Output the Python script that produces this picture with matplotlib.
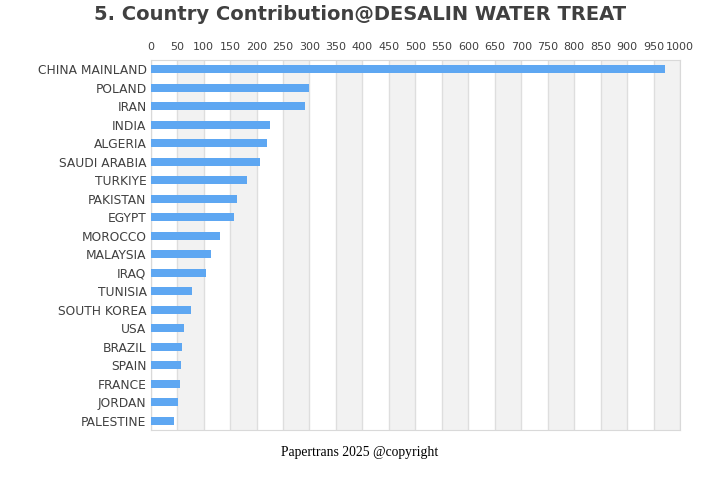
import matplotlib.pyplot as plt
import numpy as np

countries = ["CHINA MAINLAND", "POLAND", "IRAN", "INDIA", "ALGERIA", "SAUDI ARABIA",
             "TURKIYE", "PAKISTAN", "EGYPT", "MOROCCO", "MALAYSIA", "IRAQ", "TUNISIA",
             "SOUTH KOREA", "USA", "BRAZIL", "SPAIN", "FRANCE", "JORDAN", "PALESTINE"]
values = [972, 299, 292, 225, 220, 206, 182, 163, 157, 131, 114, 104, 78, 76,
          63, 59, 57, 55, 52, 44]
x_ticks = list(range(0, 1001, 50))

fig = plt.figure(figsize=(7.2, 4.8), dpi=100)
ax = fig.add_axes([0.2093, 0.104, 0.7351, 0.771])

# alternating background bands
for i, t in enumerate(x_ticks[:-1]):
    if i % 2 == 1:
        ax.axvspan(t, t + 50, color='#f2f2f2', zorder=0, lw=0)
for t in x_ticks:
    ax.axvline(t, color='#dedede', lw=1, zorder=1)

y = np.arange(len(countries))
ax.barh(y, values, height=0.45, color='#5ea7f2', zorder=3)

ax.set_xlim(0, 1000)
ax.set_ylim(len(countries) - 0.5, -0.5)
ax.set_yticks(y)
ax.set_yticklabels(countries, fontsize=8.8, color='#404040')
ax.set_xticks(x_ticks)
ax.xaxis.tick_top()
ax.tick_params(axis='x', labelsize=8, colors='#404040', length=0, pad=6)
ax.tick_params(axis='y', length=0, pad=3)
for s in ax.spines.values():
    s.set_color('#d9d9d9')

fig.text(0.5, 0.97, "5. Country Contribution@DESALIN WATER TREAT", ha='center', va='center',
         fontsize=14, fontweight='bold', color='#404040')
fig.text(0.5, 0.057, "Papertrans 2025 @copyright", ha='center', va='center',
         fontsize=9.8, family='Liberation Serif', color='black')

fig.savefig('out.png', dpi=100)
